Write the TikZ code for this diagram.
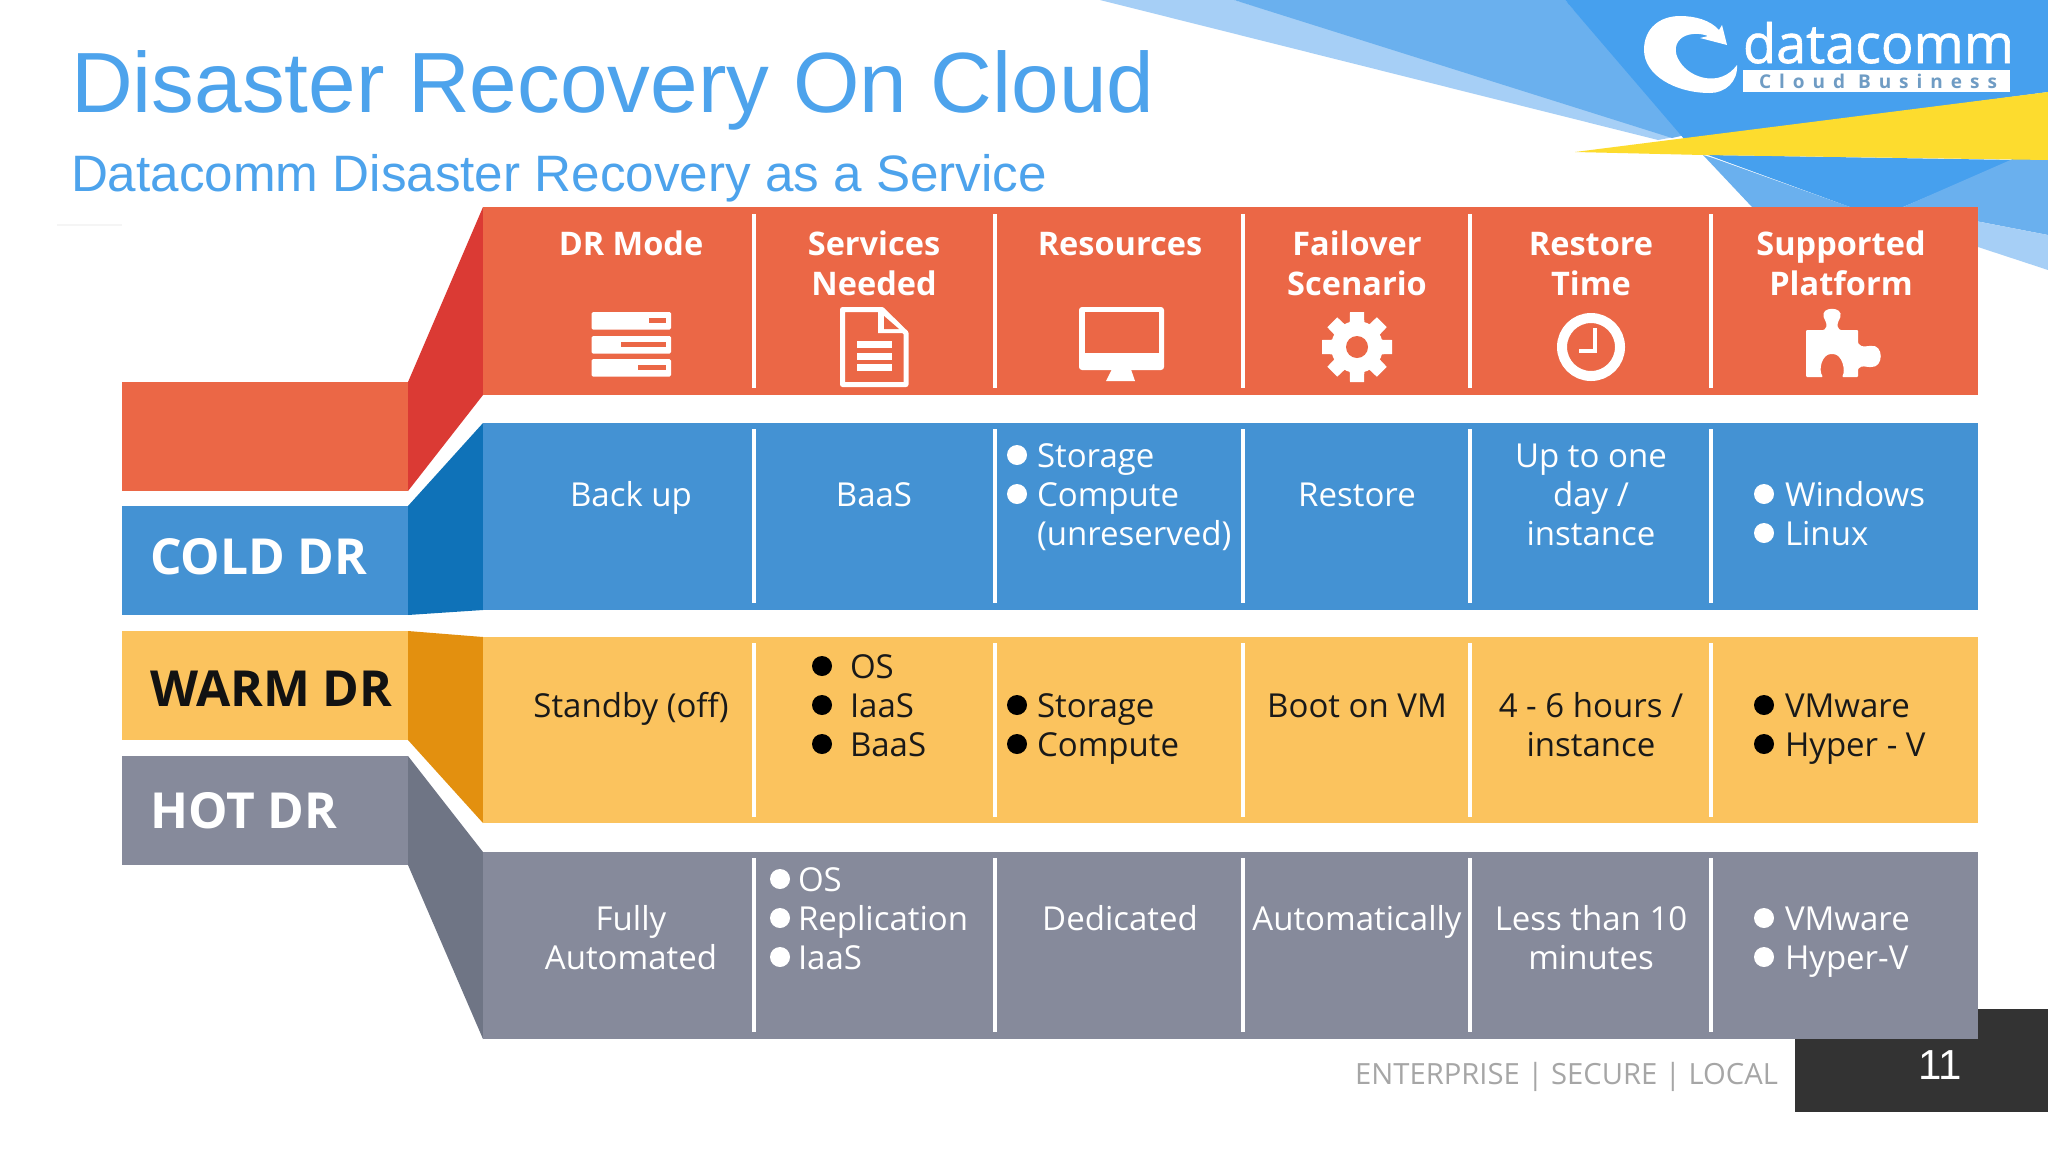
\documentclass[tikz,border=0pt]{standalone}
\usepackage{fontspec}
\setmainfont{Liberation Sans}
\newfontfamily\osans{Open Sans}
\newfontfamily\ospaced[LetterSpace=42]{Open Sans}
\newfontfamily\ologo[FakeBold=1.2]{Open Sans}
\newcommand{\fs}[1]{\fontsize{#1}{#1}\selectfont}
\definecolor{cred}{HTML}{EB6746}
\definecolor{cblue}{HTML}{4492D3}
\definecolor{cwarm}{HTML}{FBC35E}
\definecolor{cgray}{HTML}{868A9B}
\definecolor{dred}{HTML}{DB3A34}
\definecolor{dblue}{HTML}{0F72B8}
\definecolor{dwarm}{HTML}{E3900F}
\definecolor{dgray}{HTML}{6F7585}
\definecolor{ttl}{HTML}{4DA3EC}
\definecolor{b1}{HTML}{A6CFF6}
\definecolor{b2}{HTML}{6AB0EE}
\definecolor{b3}{HTML}{46A0EE}
\definecolor{ylw}{HTML}{FDDC2E}
\definecolor{dark}{HTML}{333333}
\definecolor{cbtxt}{HTML}{6F9CC4}
\tikzset{
 x=1pt,y=-1pt,
 every node/.style={inner sep=0pt,outer sep=0pt},
 white body/.style={anchor=base,font=\osans\fs{33},text=white},
 black body/.style={anchor=base,font=\osans\fs{33},text=black!90},
 head/.style={anchor=base,font=\osans\bfseries\fs{32.5},text=white},
 lbl/.style={anchor=base west,font=\osans\bfseries\fs{49.7}},
 wbul/.style={circle,fill=white,minimum size=20pt},
 kbul/.style={circle,fill=black,minimum size=20pt},
 divider/.style={white,line width=4pt},
}
\begin{document}
\begin{tikzpicture}
\useasboundingbox (0,0) rectangle (2048,1152);
\fill[white] (0,0) rectangle (2048,1152);
% background wedges
\fill[b1] (1100,0)--(1234,0)--(1685,135)--(1658,140)--cycle;
\fill[b2] (1234,0)--(1565,0)--(1685,135)--(1672,138)--cycle;
\fill[b3] (1565,0)--(2048,0)--(2048,92)--(1685,140)--cycle;
\fill[b2] (1703,155)--(1713,158)--(1850,207)--(1752,207)--cycle;
\fill[b3] (1708,155)--(2015,160)--(1903,207)--(1850,207)--cycle;
\fill[b2] (2015,158)--(2048,158)--(2048,235)--(1903,207)--cycle;
\fill[b1] (1903,207)--(2048,235)--(2048,270)--(1978,247)--(1978,207)--cycle;
\fill[ylw] (1575,152)--(2048,92)--(2048,160)--(1703,155)--cycle;
\fill[black!4] (57,224) rectangle (122,226);
% titles
\node[anchor=base west,font=\fs{85.5},text=ttl] (title) at (71,112) {Disaster Recovery On Cloud};
\node[anchor=base west,font=\fs{51.2},text=ttl] (subtitle) at (71,191) {Datacomm Disaster Recovery as a Service};
% left bands
\fill[cred] (122,382) rectangle (408,491);
\fill[cblue] (122,506) rectangle (408,615);
\fill[cwarm] (122,631) rectangle (408,740);
\fill[cgray] (122,756) rectangle (408,865);
% slanted
\fill[dred] (408,382)--(483,207)--(483,395)--(408,491)--cycle;
\fill[dblue] (408,506)--(483,423)--(483,610)--(408,615)--cycle;
\fill[dwarm] (408,631)--(483,637)--(483,823)--(408,740)--cycle;
\fill[dgray] (408,756)--(483,852)--(483,1039)--(408,865)--cycle;
% rows
\fill[cred] (483,207) rectangle (1978,395);
\fill[cblue] (483,423) rectangle (1978,610);
\fill[cwarm] (483,637) rectangle (1978,823);
\fill[cgray] (483,852) rectangle (1978,1039);
% dividers
\foreach \x in {754,995,1243,1470,1711}
 \foreach \a/\b in {214/388,429/603,643/817,858/1032}
  \draw[divider] (\x,\a)--(\x,\b);
% labels
\node[lbl,text=white] (cold) at (150,574) {COLD DR};
\node[lbl,text=black!93] (warm) at (150,706) {WARM DR};
\node[lbl,text=white] (hot) at (150,828) {HOT DR};
% headers
\foreach \x/\y/\t [count=\i] in {631/255/DR Mode,874/255/Services,874/295/Needed,1120/255/Resources,1357/255/Failover,1357/295/Scenario,1591/255/Restore,1591/295/Time,1841/255/Supported,1841/295/Platform}
 \node[head,name=h\i] at (\x,\y) {\t};
% white text rows, centred
\foreach \x/\y/\t [count=\i] in {631/506/Back up,874/506/BaaS,1357/506/Restore,1591/467/Up to one,1591/506/{day /},1591/545/instance,631/930/Fully,631/969/Automated,1120/930/Dedicated,1357/930/Automatically,1591/930/Less than 10,1591/969/minutes}
 \node[white body,name=w\i] at (\x,\y) {\t};
% black text rows, centred
\foreach \x/\y/\t [count=\i] in {631/717/Standby (off),1357/717/Boot on VM,1591/717/{4 - 6 hours /},1591/756/instance}
 \node[black body,name=k\i] at (\x,\y) {\t};
% bulleted, white
\foreach \bx/\tx/\y/\t [count=\i] in {1017/1037/467/Storage,1017/1037/506/Compute,1017/1037/545/(unreserved),1764/1785/506/Windows,1764/1785/545/Linux,780/798/891/OS,780/798/930/Replication,780/798/969/IaaS,1764/1785/930/VMware,1764/1785/969/Hyper-V}
 {\ifnum\i=3\else\node[wbul,name=wb\i] at (\bx,\y-12) {};\fi
  \node[white body,anchor=base west,name=wt\i] at (\tx,\y) {\t};}
% bulleted, black
\foreach \bx/\tx/\y/\t [count=\i] in {822/850/678/OS,822/850/717/IaaS,822/850/756/BaaS,1017/1037/717/Storage,1017/1037/756/Compute,1764/1785/717/VMware,1764/1785/756/Hyper - V}
 {\node[kbul,name=kb\i] at (\bx,\y-12) {};
  \node[black body,anchor=base west,name=kt\i] at (\tx,\y) {\t};}
% icon: server
\foreach \t/\s in {312/649,336/620.5,359/637.5}{
 \fill[white,rounded corners=1.5pt] (591.5,\t) rectangle (671,\t+17.5);
 \fill[cred] (\s,\t+5.5) rectangle (666,\t+11);}
% icon: document
\draw[white,line width=5pt,line join=round] (842.5,309.5)--(882,309.5)--(906,333)--(906,384.5)--(842.5,384.5)--cycle;
\fill[white] (878,309)--(906,333)--(878,333)--cycle;
\fill[cred] (884,316)--(899,329)--(884,329)--cycle;
\foreach \t in {341,353,364} \fill[white] (857,\t) rectangle (892,\t+6.5);
% icon: monitor
\fill[white,rounded corners=3pt] (1079,307) rectangle (1164,370);
\fill[cred] (1085,312) rectangle (1158.5,353);
\fill[white] (1112.5,368)--(1130.5,368)--(1135,381)--(1106,381)--cycle;
% icon: gear
\fill[white] (1357,347) circle (26);
\foreach \a in {0,45,...,315}
 \fill[white,rotate around={\a:(1357,347)}] (1349,347)--(1350,312)--(1364,312)--(1365,347)--cycle;
\fill[cred] (1357,347) circle (11);
% icon: clock
\draw[white,line width=10pt] (1591,347) circle (29);
\fill[white] (1592.5,328) rectangle (1596.5,353);
\fill[white] (1578.5,348.5) rectangle (1596.5,353);
% icon: puzzle
\fill[white,rounded corners=1pt] (1806,330)--(1824,330)
 .. controls (1828,326) and (1826,322) .. (1824,318)
 .. controls (1820,306) and (1844,306) .. (1840,318)
 .. controls (1838,322) and (1836,326) .. (1840,330)
 --(1858,330)--(1858,343)
 .. controls (1862,348) and (1866,346) .. (1870,346)
 .. controls (1884,344) and (1884,368) .. (1870,367)
 .. controls (1866,367) and (1862,365) .. (1858,369)
 --(1858,377)--(1842,377)
 .. controls (1846,370) and (1842,354) .. (1832,354)
 .. controls (1822,354) and (1818,370) .. (1823,377)
 --(1806,377)--cycle;
% logo
\fill[white] (1737,65) .. controls (1738,82) and (1725,93) .. (1710,93)
 .. controls (1675,93) and (1644,75) .. (1644,50)
 .. controls (1644,28) and (1660,16) .. (1680,16)
 .. controls (1695,16) and (1710,20) .. (1719,30)
 -- (1722,25) -- (1727,45) -- (1700,38) -- (1708,36)
 .. controls (1700,33) and (1690,33) .. (1683,37)
 .. controls (1675,42) and (1673,52) .. (1680,62)
 .. controls (1690,78) and (1720,88) .. (1737,65) -- cycle;
\node[anchor=base west,font=\ologo\fs{54},text=white] (logo) at (1743,63) {datacomm};
\fill[white] (1743,70) rectangle (2010,92);
\node[anchor=center,font=\ospaced\bfseries\fs{19},text=cbtxt] (cb) at (1878,81) {Cloud Business};
% footer
\fill[dark] (1795,1009) rectangle (2048,1112);
\fill[cgray] (1795,1009) rectangle (1978,1039);
\node[anchor=center,font=\fs{42},text=white] (page) at (1940,1065) {11};
\node[anchor=base east,font=\osans\fs{29.2},text=black!35] (tag) at (1778,1084) {ENTERPRISE | SECURE | LOCAL};
\end{tikzpicture}
\end{document}
